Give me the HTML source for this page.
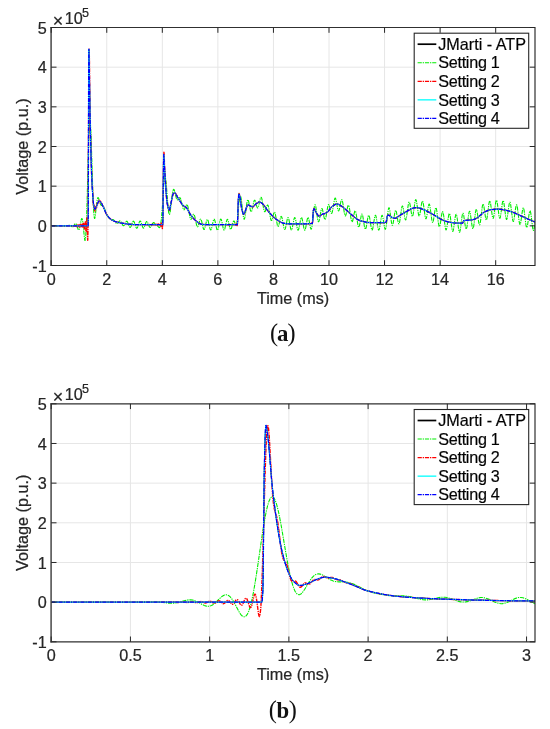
<!DOCTYPE html>
<html lang="en">
<head>
<meta charset="utf-8">
<title>Voltage comparison</title>
<style>
html,body{margin:0;padding:0;background:#fff;}
body{width:550px;height:729px;overflow:hidden;}
</style>
</head>
<body>
<svg width="550" height="729" viewBox="0 0 550 729" style="display:block">
<rect width="550" height="729" fill="#fff"/>
<g font-family="'Liberation Sans', sans-serif" fill="#262626" stroke="#262626" stroke-width="0.22">
<line x1="106.76" y1="27.5" x2="106.76" y2="265.5" stroke="#e6e6e6" stroke-width="1"/>
<line x1="162.32" y1="27.5" x2="162.32" y2="265.5" stroke="#e6e6e6" stroke-width="1"/>
<line x1="217.88" y1="27.5" x2="217.88" y2="265.5" stroke="#e6e6e6" stroke-width="1"/>
<line x1="273.44" y1="27.5" x2="273.44" y2="265.5" stroke="#e6e6e6" stroke-width="1"/>
<line x1="329.00" y1="27.5" x2="329.00" y2="265.5" stroke="#e6e6e6" stroke-width="1"/>
<line x1="384.56" y1="27.5" x2="384.56" y2="265.5" stroke="#e6e6e6" stroke-width="1"/>
<line x1="440.12" y1="27.5" x2="440.12" y2="265.5" stroke="#e6e6e6" stroke-width="1"/>
<line x1="495.68" y1="27.5" x2="495.68" y2="265.5" stroke="#e6e6e6" stroke-width="1"/>
<line x1="51.2" y1="225.83" x2="535.0" y2="225.83" stroke="#e6e6e6" stroke-width="1"/>
<line x1="51.2" y1="186.17" x2="535.0" y2="186.17" stroke="#e6e6e6" stroke-width="1"/>
<line x1="51.2" y1="146.50" x2="535.0" y2="146.50" stroke="#e6e6e6" stroke-width="1"/>
<line x1="51.2" y1="106.83" x2="535.0" y2="106.83" stroke="#e6e6e6" stroke-width="1"/>
<line x1="51.2" y1="67.17" x2="535.0" y2="67.17" stroke="#e6e6e6" stroke-width="1"/>
<clipPath id="clipa"><rect x="51.2" y="27.5" width="483.8" height="238.0"/></clipPath>
<g clip-path="url(#clipa)" fill="none" stroke-linejoin="round">
<path d="M51.20,225.83 L88.15,225.83 L88.31,213.93 L88.37,196.67 L88.59,84.53 L88.76,53.91 L88.87,49.06 L89.26,63.77 L90.04,114.77 L91.15,160.21 L91.65,174.55 L92.31,188.77 L92.93,197.87 L93.59,204.53 L94.37,208.35 L94.65,209.05 L94.81,209.17 L94.98,209.13 L95.48,208.55 L96.31,206.97 L97.65,203.31 L98.59,201.43 L98.87,201.04 L99.15,200.85 L99.43,200.89 L99.76,201.09 L100.93,202.37 L101.76,203.75 L103.93,208.31 L106.04,213.42 L106.59,214.47 L107.32,215.50 L109.09,217.69 L110.82,219.31 L112.20,220.22 L114.65,221.31 L117.48,222.24 L120.59,222.95 L127.21,223.98 L132.21,224.51 L135.71,224.64 L162.71,224.64 L162.88,219.14 L163.49,163.80 L163.71,154.43 L163.93,156.41 L165.49,183.78 L166.60,198.10 L167.26,203.73 L168.15,207.67 L168.82,209.55 L169.10,209.91 L169.38,209.92 L169.82,208.85 L172.38,196.43 L173.04,193.92 L173.27,193.47 L173.54,193.25 L174.43,192.95 L175.04,192.96 L175.38,193.23 L175.77,193.76 L177.43,197.01 L181.77,203.89 L182.65,205.01 L183.49,205.83 L184.10,206.25 L185.71,207.03 L186.54,207.81 L187.43,209.16 L189.88,213.60 L191.93,216.52 L193.32,218.31 L194.71,219.78 L198.05,222.61 L199.77,223.69 L201.27,224.21 L203.99,224.52 L206.43,224.64 L237.33,224.64 L237.44,224.01 L237.60,221.07 L238.33,199.82 L238.72,195.11 L238.99,193.70 L239.22,193.98 L239.44,194.72 L240.22,198.65 L241.33,206.73 L241.72,208.95 L242.83,212.93 L243.22,213.85 L243.55,214.27 L243.77,214.32 L243.94,214.22 L244.38,213.49 L246.99,206.14 L247.38,205.28 L247.72,204.87 L248.05,204.82 L248.55,204.97 L250.10,205.87 L251.77,206.62 L252.33,206.77 L252.83,206.77 L253.66,206.29 L255.61,204.28 L257.77,202.62 L258.83,202.09 L259.72,202.09 L260.38,202.33 L261.16,202.79 L262.55,203.79 L263.27,204.47 L264.49,205.98 L267.11,209.83 L268.27,211.36 L272.38,215.91 L275.16,218.50 L276.27,219.34 L278.88,221.04 L281.61,222.56 L283.72,223.31 L286.33,223.65 L289.77,223.85 L303.55,223.84 L308.33,223.73 L312.33,223.45 L312.44,223.10 L312.61,221.51 L313.33,210.65 L313.61,209.43 L313.94,208.79 L314.28,208.89 L314.67,209.36 L316.28,212.79 L317.89,215.21 L318.72,216.11 L319.11,216.29 L319.44,216.30 L320.11,215.96 L321.39,214.77 L321.94,214.38 L325.00,213.47 L326.06,212.97 L327.11,212.31 L327.83,211.76 L328.39,211.17 L330.67,207.98 L331.67,206.88 L333.61,205.44 L334.89,204.64 L336.00,204.18 L337.06,204.02 L338.11,204.19 L339.33,204.73 L343.50,207.62 L345.06,208.92 L348.45,212.04 L354.39,217.15 L356.22,218.60 L357.84,219.67 L359.67,220.53 L362.61,221.36 L366.00,222.13 L369.00,222.56 L371.06,222.66 L384.28,222.66 L385.06,222.53 L385.73,222.22 L386.28,221.79 L386.50,220.87 L387.23,216.19 L387.56,215.65 L388.12,215.21 L388.56,215.13 L389.12,215.32 L391.23,216.96 L393.17,217.85 L394.56,218.25 L395.17,218.30 L395.67,218.22 L396.28,217.98 L397.01,217.54 L400.06,215.16 L406.78,211.40 L410.73,209.03 L411.95,208.50 L413.84,207.98 L415.28,207.68 L416.51,207.59 L418.01,207.73 L419.73,208.18 L424.06,209.80 L426.06,210.68 L433.68,214.75 L440.45,218.94 L443.56,220.52 L445.06,221.06 L448.12,221.86 L450.62,222.38 L453.01,222.75 L459.07,223.24 L461.01,223.23 L462.62,223.06 L462.84,222.80 L463.46,221.09 L463.73,220.68 L465.51,220.36 L470.40,220.10 L471.84,219.92 L474.01,219.33 L476.62,218.24 L477.79,217.45 L480.07,215.40 L483.57,212.55 L484.73,211.87 L487.62,210.58 L489.46,209.96 L491.12,209.62 L494.90,209.29 L498.18,209.17 L500.68,209.29 L503.46,209.71 L507.51,210.64 L511.46,211.73 L514.46,212.93 L528.35,219.20 L533.29,221.31 L535.96,222.26" stroke="#000" stroke-width="1.0"/>
<path d="M51.20,225.83 L56.53,225.90 L59.70,225.72 L63.03,225.96 L66.87,225.84 L69.31,225.40 L70.15,225.63 L71.76,226.79 L72.15,226.96 L72.48,226.99 L72.87,226.84 L73.26,226.49 L74.87,223.98 L75.26,223.61 L75.59,223.52 L75.98,223.77 L76.37,224.39 L78.04,229.18 L78.42,229.85 L78.76,229.99 L79.15,229.54 L79.54,228.42 L81.20,219.89 L81.59,218.71 L81.76,218.49 L81.92,218.48 L82.15,218.79 L82.37,219.51 L82.87,222.57 L84.54,238.77 L84.87,240.32 L85.04,240.53 L85.20,240.30 L85.54,238.38 L85.81,235.15 L86.37,224.07 L86.98,205.40 L88.81,137.70 L89.43,124.36 L89.70,121.38 L89.81,120.78 L89.98,120.51 L90.20,121.32 L90.48,124.16 L91.04,135.19 L92.70,188.22 L93.31,204.34 L93.87,213.88 L94.15,216.63 L94.43,218.09 L94.59,218.40 L94.70,218.38 L94.81,218.19 L95.26,216.09 L96.59,204.02 L97.15,200.03 L97.59,198.17 L97.81,197.71 L98.09,197.55 L98.37,197.80 L98.70,198.52 L100.04,203.12 L100.65,204.65 L100.98,205.15 L101.32,205.43 L101.65,205.55 L102.76,205.67 L103.15,205.93 L103.54,206.40 L104.32,208.02 L106.04,212.98 L106.93,215.08 L108.15,217.07 L109.76,218.82 L110.37,219.31 L110.98,219.58 L111.54,219.64 L112.87,219.53 L113.59,219.80 L114.37,220.60 L115.98,223.04 L116.37,223.42 L116.76,223.61 L117.21,223.56 L117.65,223.24 L118.98,221.52 L119.43,221.07 L119.82,220.88 L120.21,220.94 L120.59,221.25 L121.04,221.89 L122.65,225.08 L123.04,225.55 L123.43,225.74 L123.87,225.58 L124.32,225.05 L125.65,222.34 L126.09,221.62 L126.48,221.27 L126.87,221.25 L127.26,221.60 L127.71,222.38 L129.37,226.63 L129.71,227.14 L130.04,227.39 L130.43,227.29 L130.87,226.71 L132.65,222.03 L133.10,221.32 L133.48,221.14 L133.87,221.40 L134.32,222.22 L135.65,226.38 L136.10,227.50 L136.54,228.14 L136.76,228.24 L136.98,228.19 L137.37,227.72 L137.76,226.86 L139.37,221.95 L139.76,221.28 L140.15,221.06 L140.48,221.25 L140.87,221.89 L142.54,226.86 L142.99,227.76 L143.37,228.10 L143.76,227.98 L144.15,227.43 L145.93,222.47 L146.37,221.70 L146.76,221.44 L147.15,221.61 L147.54,222.17 L149.15,226.24 L149.60,227.02 L149.99,227.35 L150.37,227.33 L150.76,226.98 L152.65,223.38 L153.15,222.82 L153.65,222.64 L154.04,222.75 L154.49,223.07 L155.82,224.47 L157.43,225.89 L158.93,227.44 L159.43,227.62 L159.82,227.34 L160.26,226.34 L160.65,224.68 L161.43,218.78 L162.49,205.52 L163.15,195.55 L163.21,192.56 L163.82,184.03 L164.43,178.39 L164.71,177.05 L164.99,176.55 L165.21,176.76 L165.43,177.49 L165.93,180.89 L166.49,186.92 L168.10,207.59 L168.65,212.20 L168.93,213.60 L169.21,214.33 L169.43,214.44 L169.71,214.01 L170.27,211.47 L172.04,196.36 L172.65,192.20 L173.21,189.97 L173.49,189.47 L173.77,189.37 L174.10,189.73 L174.49,190.71 L176.15,197.49 L176.60,198.84 L176.99,199.59 L177.38,199.92 L177.82,199.82 L178.21,199.41 L179.15,198.05 L179.60,197.68 L179.82,197.65 L180.04,197.74 L180.49,198.34 L181.27,200.69 L182.88,207.69 L183.27,208.88 L183.66,209.61 L183.88,209.80 L184.10,209.82 L184.32,209.68 L184.60,209.29 L185.99,205.64 L186.49,204.69 L186.71,204.49 L186.93,204.47 L187.32,204.89 L187.71,205.90 L188.16,207.70 L189.88,216.87 L190.27,218.27 L190.66,219.10 L190.99,219.33 L191.38,219.07 L191.82,218.21 L193.16,214.72 L193.60,214.25 L193.82,214.28 L193.99,214.42 L194.38,215.17 L194.82,216.69 L196.60,225.17 L197.05,226.40 L197.27,226.72 L197.49,226.84 L197.88,226.55 L198.27,225.70 L199.55,221.10 L199.99,219.82 L200.38,219.21 L200.60,219.12 L200.77,219.19 L201.16,219.78 L201.55,220.93 L203.27,228.30 L203.66,229.24 L203.99,229.56 L204.16,229.53 L204.38,229.31 L204.77,228.44 L206.55,220.97 L206.99,219.81 L207.21,219.53 L207.38,219.47 L207.55,219.52 L207.77,219.79 L208.16,220.76 L209.88,228.32 L210.32,229.56 L210.71,229.97 L210.88,229.93 L211.10,229.68 L211.49,228.73 L213.21,220.98 L213.66,219.66 L214.05,219.19 L214.21,219.21 L214.44,219.44 L214.82,220.38 L215.27,222.14 L216.55,228.33 L216.99,229.71 L217.38,230.21 L217.55,230.21 L217.77,229.98 L218.16,229.04 L218.60,227.26 L219.88,220.97 L220.32,219.57 L220.71,219.07 L220.88,219.08 L221.10,219.30 L221.49,220.25 L221.94,222.03 L223.21,228.29 L223.66,229.67 L224.05,230.15 L224.21,230.13 L224.44,229.89 L224.82,228.94 L226.55,221.06 L226.94,219.89 L227.33,219.37 L227.49,219.36 L227.71,219.56 L228.10,220.44 L229.77,227.67 L230.16,228.85 L230.55,229.42 L230.71,229.46 L230.94,229.32 L231.33,228.59 L232.94,222.50 L233.33,221.48 L233.66,221.04 L233.94,221.00 L234.27,221.32 L235.66,224.74 L235.99,225.17 L236.27,225.14 L236.60,224.53 L236.88,223.48 L237.44,219.85 L237.88,215.66 L237.94,212.56 L239.27,200.12 L239.83,196.98 L240.10,196.21 L240.33,196.01 L240.49,196.11 L240.72,196.58 L241.16,198.60 L241.66,202.26 L243.16,215.50 L243.66,218.22 L243.88,218.88 L244.10,219.18 L244.27,219.16 L244.49,218.81 L244.94,217.12 L245.44,213.91 L246.83,203.24 L247.27,200.99 L247.72,199.88 L247.88,199.78 L248.10,199.91 L248.55,200.99 L250.33,209.96 L250.77,211.34 L250.99,211.69 L251.22,211.79 L251.38,211.69 L251.60,211.36 L251.99,210.24 L253.61,202.47 L253.99,201.10 L254.33,200.40 L254.49,200.22 L254.72,200.18 L254.94,200.36 L255.16,200.73 L255.66,202.16 L256.94,206.87 L257.38,207.78 L257.61,207.95 L257.77,207.94 L258.16,207.45 L258.61,206.15 L260.33,198.45 L260.72,197.49 L260.94,197.24 L261.11,197.22 L261.49,197.70 L261.94,199.12 L263.72,209.02 L264.16,210.77 L264.55,211.62 L264.72,211.76 L264.94,211.76 L265.38,211.12 L266.77,206.43 L267.22,205.33 L267.44,205.05 L267.66,204.98 L267.88,205.15 L268.11,205.55 L268.44,206.58 L268.83,208.37 L270.44,217.98 L270.88,219.69 L271.27,220.44 L271.44,220.53 L271.61,220.48 L272.00,219.87 L272.44,218.46 L273.77,213.11 L274.22,212.22 L274.44,212.10 L274.61,212.17 L275.00,212.88 L275.44,214.53 L277.27,224.70 L277.72,226.04 L277.94,226.34 L278.16,226.39 L278.55,225.88 L278.94,224.70 L280.55,217.54 L281.00,216.55 L281.22,216.41 L281.39,216.46 L281.77,217.14 L282.22,218.77 L283.94,227.95 L284.39,229.23 L284.61,229.49 L284.77,229.52 L285.16,229.02 L285.61,227.56 L287.33,218.97 L287.72,217.94 L287.94,217.69 L288.11,217.67 L288.50,218.20 L288.94,219.69 L290.66,228.58 L291.05,229.69 L291.39,230.04 L291.55,229.99 L291.77,229.69 L292.16,228.57 L293.89,219.61 L294.33,218.11 L294.55,217.72 L294.78,217.60 L294.94,217.68 L295.16,218.02 L295.55,219.22 L297.22,228.07 L297.61,229.47 L298.00,230.13 L298.16,230.17 L298.39,229.97 L298.83,228.80 L299.28,226.77 L300.61,219.40 L301.05,217.93 L301.28,217.57 L301.44,217.47 L301.61,217.54 L301.83,217.87 L302.22,219.06 L303.83,227.84 L304.22,229.37 L304.55,230.10 L304.78,230.24 L305.00,230.10 L305.44,229.00 L305.89,226.98 L307.22,219.42 L307.66,217.89 L307.89,217.52 L308.05,217.43 L308.22,217.50 L308.44,217.84 L308.89,219.32 L310.11,226.13 L310.55,228.14 L310.94,229.07 L311.11,229.17 L311.28,229.07 L311.50,228.62 L311.72,227.81 L312.17,225.15 L313.39,213.62 L314.05,208.28 L314.55,205.68 L314.78,205.05 L315.00,204.78 L315.17,204.82 L315.39,205.17 L315.83,206.84 L317.55,218.69 L317.94,220.59 L318.33,221.62 L318.55,221.79 L318.78,221.64 L319.22,220.47 L319.67,218.36 L321.00,210.64 L321.44,209.10 L321.67,208.71 L321.83,208.60 L322.00,208.64 L322.22,208.93 L322.67,210.25 L323.94,216.73 L324.39,218.56 L324.78,219.47 L325.00,219.64 L325.17,219.59 L325.50,219.01 L325.89,217.61 L327.61,207.33 L328.06,205.51 L328.44,204.71 L328.61,204.61 L328.83,204.70 L329.28,205.60 L330.67,211.44 L331.11,212.84 L331.33,213.23 L331.56,213.39 L331.78,213.28 L332.00,212.90 L332.33,211.86 L332.72,210.01 L334.33,200.13 L334.78,198.55 L335.00,198.15 L335.17,198.04 L335.33,198.10 L335.56,198.41 L335.94,199.59 L337.67,208.86 L338.11,210.37 L338.33,210.76 L338.50,210.88 L338.67,210.84 L338.89,210.57 L339.33,209.28 L340.67,202.50 L341.11,200.69 L341.56,199.76 L341.78,199.70 L342.00,199.93 L342.39,201.00 L342.78,202.84 L344.45,213.53 L344.89,215.24 L345.28,215.84 L345.45,215.83 L345.67,215.57 L346.11,214.29 L347.39,207.89 L347.83,206.12 L348.28,205.24 L348.50,205.21 L348.67,205.38 L349.06,206.41 L349.45,208.24 L351.17,219.61 L351.56,221.18 L351.95,221.91 L352.11,221.95 L352.34,221.74 L352.78,220.53 L354.11,213.66 L354.56,211.81 L354.95,210.93 L355.17,210.81 L355.34,210.92 L355.72,211.80 L356.17,213.82 L357.89,225.07 L358.28,226.56 L358.61,227.12 L358.78,227.15 L359.00,226.91 L359.39,225.81 L359.84,223.68 L361.17,215.92 L361.61,214.44 L361.84,214.12 L362.00,214.07 L362.22,214.28 L362.45,214.78 L362.89,216.61 L364.23,225.24 L364.67,227.58 L365.11,228.95 L365.34,229.20 L365.56,229.13 L365.95,228.28 L366.34,226.62 L367.56,219.02 L368.00,216.77 L368.45,215.47 L368.67,215.26 L368.84,215.30 L369.23,216.08 L369.61,217.71 L371.28,228.04 L371.67,229.47 L371.89,229.89 L372.06,230.01 L372.23,229.94 L372.45,229.58 L372.84,228.24 L374.56,217.60 L375.00,215.85 L375.23,215.40 L375.45,215.27 L375.61,215.37 L375.84,215.79 L376.23,217.22 L377.84,227.37 L378.23,229.11 L378.56,229.92 L378.78,230.08 L379.00,229.91 L379.45,228.65 L379.89,226.36 L381.28,217.44 L381.73,215.78 L381.95,215.39 L382.12,215.31 L382.28,215.41 L382.50,215.82 L382.95,217.52 L384.23,225.63 L384.67,227.92 L385.06,229.06 L385.28,229.25 L385.45,229.16 L385.67,228.72 L385.89,227.92 L386.34,225.36 L388.12,210.54 L388.56,208.43 L388.78,207.91 L388.95,207.77 L389.12,207.85 L389.34,208.28 L389.73,209.87 L391.45,222.33 L391.89,224.44 L392.12,225.03 L392.34,225.28 L392.51,225.23 L392.73,224.88 L393.12,223.49 L394.78,212.86 L395.23,211.02 L395.45,210.53 L395.62,210.37 L395.78,210.39 L396.01,210.70 L396.45,212.20 L397.84,220.65 L398.28,222.77 L398.73,223.82 L398.95,223.87 L399.17,223.58 L399.51,222.54 L399.89,220.49 L401.56,208.42 L401.95,206.72 L402.34,205.98 L402.56,206.03 L402.78,206.41 L403.23,208.06 L404.56,216.46 L405.01,218.68 L405.45,219.82 L405.67,219.91 L405.84,219.75 L406.23,218.66 L406.62,216.65 L408.28,204.58 L408.67,202.86 L409.06,202.10 L409.23,202.09 L409.40,202.28 L409.78,203.40 L410.23,205.67 L411.56,214.18 L412.01,215.84 L412.23,216.22 L412.45,216.28 L412.84,215.57 L413.28,213.60 L415.01,201.77 L415.40,200.22 L415.62,199.76 L415.78,199.65 L415.95,199.73 L416.17,200.14 L416.56,201.62 L418.28,213.34 L418.73,215.31 L418.95,215.85 L419.17,216.04 L419.34,215.97 L419.56,215.57 L420.01,213.85 L421.34,205.02 L421.84,202.37 L422.29,201.18 L422.51,201.09 L422.73,201.34 L423.06,202.36 L423.45,204.40 L425.12,216.47 L425.51,218.11 L425.73,218.60 L425.90,218.75 L426.06,218.70 L426.29,218.33 L426.73,216.66 L428.06,207.88 L428.51,205.50 L428.95,204.21 L429.17,204.07 L429.34,204.19 L429.73,205.24 L430.12,207.24 L431.84,220.07 L432.23,221.77 L432.45,222.29 L432.62,222.45 L432.79,222.41 L433.01,222.05 L433.45,220.38 L434.79,211.54 L435.23,209.15 L435.62,207.95 L435.84,207.73 L436.01,207.80 L436.40,208.73 L436.84,211.02 L438.56,224.19 L438.95,225.95 L439.18,226.49 L439.34,226.67 L439.51,226.64 L439.73,226.29 L440.18,224.61 L441.51,215.62 L441.95,213.16 L442.34,211.90 L442.56,211.64 L442.73,211.68 L443.12,212.55 L443.56,214.78 L445.29,227.62 L445.68,229.28 L446.01,229.86 L446.23,229.79 L446.45,229.36 L446.90,227.50 L448.23,217.93 L448.73,215.03 L449.12,213.77 L449.34,213.53 L449.51,213.59 L449.90,214.54 L450.29,216.48 L452.01,229.21 L452.40,230.84 L452.62,231.30 L452.79,231.40 L452.95,231.29 L453.12,230.98 L453.51,229.48 L455.23,217.11 L455.68,215.01 L455.90,214.46 L456.07,214.28 L456.23,214.32 L456.45,214.69 L456.84,216.20 L457.29,219.02 L458.62,229.34 L459.07,231.46 L459.29,232.01 L459.45,232.18 L459.62,232.13 L459.84,231.73 L460.23,230.16 L460.68,227.25 L462.01,216.53 L462.46,214.24 L462.68,213.59 L462.90,213.30 L463.07,213.34 L463.29,213.70 L463.68,215.16 L465.34,226.49 L465.73,228.24 L465.96,228.80 L466.12,228.99 L466.29,228.97 L466.51,228.62 L466.96,226.89 L468.68,214.23 L469.12,212.10 L469.34,211.53 L469.51,211.35 L469.68,211.37 L469.90,211.74 L470.34,213.51 L471.96,225.34 L472.34,227.39 L472.73,228.45 L472.96,228.54 L473.18,228.25 L473.62,226.56 L474.07,223.66 L475.46,212.47 L475.90,210.27 L476.12,209.68 L476.29,209.48 L476.46,209.49 L476.68,209.84 L477.12,211.54 L478.46,220.82 L478.90,223.35 L479.29,224.62 L479.51,224.85 L479.68,224.77 L480.07,223.75 L480.51,221.27 L482.29,206.53 L482.68,204.70 L482.90,204.15 L483.07,203.99 L483.23,204.05 L483.46,204.47 L483.90,206.34 L485.62,218.30 L486.01,219.73 L486.23,220.06 L486.40,220.06 L486.79,219.22 L487.23,216.96 L488.96,203.41 L489.35,201.61 L489.57,201.07 L489.74,200.92 L489.90,200.99 L490.12,201.41 L490.51,203.02 L492.24,215.72 L492.68,217.77 L492.90,218.28 L493.07,218.41 L493.24,218.33 L493.46,217.88 L493.85,216.24 L495.57,203.19 L496.01,201.00 L496.24,200.42 L496.46,200.21 L496.62,200.31 L496.85,200.78 L497.24,202.45 L498.96,215.42 L499.40,217.53 L499.62,218.07 L499.79,218.23 L499.96,218.17 L500.18,217.75 L500.57,216.17 L502.29,203.41 L502.74,201.31 L502.96,200.78 L503.13,200.63 L503.29,200.69 L503.51,201.12 L503.90,202.74 L505.68,216.44 L506.13,218.64 L506.35,219.22 L506.51,219.41 L506.68,219.38 L506.90,219.00 L507.29,217.47 L509.01,204.91 L509.46,202.85 L509.68,202.33 L509.85,202.20 L510.01,202.28 L510.24,202.73 L510.63,204.39 L512.40,218.33 L512.85,220.60 L513.07,221.22 L513.24,221.43 L513.40,221.43 L513.63,221.09 L514.01,219.63 L515.74,207.39 L516.13,205.59 L516.35,205.03 L516.51,204.85 L516.68,204.89 L516.90,205.29 L517.35,207.18 L519.13,221.35 L519.57,223.65 L519.96,224.50 L520.13,224.50 L520.35,224.16 L520.74,222.71 L522.46,210.42 L522.85,208.61 L523.07,208.04 L523.24,207.86 L523.40,207.90 L523.63,208.29 L524.07,210.18 L525.85,224.39 L526.29,226.69 L526.68,227.54 L526.85,227.55 L527.07,227.21 L527.52,225.46 L529.13,213.74 L529.52,211.79 L529.85,210.93 L530.07,210.83 L530.29,211.12 L530.74,212.83 L531.24,216.23 L532.57,227.32 L533.02,229.61 L533.24,230.23 L533.41,230.44 L533.63,230.38 L533.85,229.93 L534.29,227.99 L535.96,215.76" stroke="#00ee00" stroke-width="1.1" stroke-dasharray="4.2 0.9 1.3 0.9"/>
<path d="M51.20,225.83 L68.70,225.85 L69.48,225.78 L70.31,225.93 L71.09,225.69 L71.87,226.02 L72.70,225.59 L73.48,226.14 L74.26,225.46 L74.48,225.59 L74.92,226.22 L75.09,226.28 L75.31,226.07 L75.70,225.39 L75.87,225.30 L76.09,225.52 L76.48,226.34 L76.65,226.47 L76.81,226.33 L77.26,225.27 L77.42,225.09 L77.65,225.34 L78.09,226.57 L78.26,226.69 L78.48,226.29 L78.87,225.01 L79.04,224.84 L79.26,225.25 L79.65,226.75 L79.81,226.99 L79.98,226.74 L80.42,224.82 L80.59,224.49 L80.81,224.93 L81.26,227.16 L81.42,227.38 L81.65,226.66 L82.04,224.33 L82.20,224.01 L82.42,224.78 L82.81,227.55 L82.98,227.99 L83.15,227.52 L83.59,223.86 L83.76,223.24 L83.98,224.12 L84.42,228.56 L84.59,228.99 L84.81,227.46 L85.20,222.48 L85.37,221.81 L85.59,223.62 L85.98,230.19 L86.15,231.22 L86.31,229.90 L86.76,219.58 L86.93,217.88 L87.15,221.21 L87.54,237.00 L87.70,240.27 L87.81,238.54 L87.93,232.69 L88.09,215.33 L88.81,77.46 L89.04,53.33 L89.20,49.28 L89.43,60.37 L89.98,115.52 L90.26,130.82 L90.87,144.24 L91.70,179.31 L91.93,183.17 L92.31,185.90 L92.48,187.93 L93.09,201.43 L93.37,204.89 L93.54,205.29 L93.87,204.59 L94.04,204.76 L94.65,210.06 L94.81,210.91 L94.93,210.95 L95.65,206.73 L95.70,206.65 L95.81,206.69 L96.20,207.95 L96.31,208.15 L96.43,208.11 L96.65,207.20 L97.20,203.46 L97.43,203.08 L97.81,203.62 L97.93,203.66 L98.04,203.53 L98.81,200.29 L98.93,200.22 L99.04,200.33 L99.48,201.50 L99.65,201.71 L99.81,201.66 L100.20,201.10 L100.37,201.07 L100.59,201.45 L101.20,203.27 L101.37,203.44 L101.82,203.47 L102.04,203.79 L102.76,206.13 L103.59,207.22 L104.37,209.54 L105.15,211.08 L106.04,213.50 L107.48,215.74 L109.48,218.07 L110.98,219.42 L112.32,220.26 L114.65,221.30 L117.71,222.30 L120.93,223.00 L128.10,224.10 L133.48,224.58 L144.99,224.67 L145.76,224.60 L146.60,224.70 L147.37,224.57 L148.15,224.73 L148.99,224.54 L149.76,224.77 L150.54,224.49 L151.32,224.82 L152.15,224.44 L152.93,224.88 L153.71,224.37 L154.49,224.96 L154.71,224.86 L155.15,224.32 L155.32,224.27 L155.93,225.00 L156.10,225.08 L156.32,224.89 L156.71,224.24 L156.88,224.13 L157.04,224.25 L157.49,225.10 L157.65,225.24 L157.88,225.04 L158.26,224.11 L158.43,223.92 L158.65,224.14 L159.04,225.26 L159.26,225.53 L159.49,225.13 L159.88,223.73 L160.04,223.52 L160.21,223.80 L160.65,225.84 L160.82,226.15 L161.04,225.53 L161.43,222.90 L161.60,222.43 L161.82,223.40 L162.21,227.87 L162.38,228.57 L162.60,225.63 L162.76,219.53 L163.54,164.44 L163.76,154.70 L163.93,152.31 L164.04,152.89 L164.15,154.84 L164.88,174.85 L165.60,183.39 L166.38,196.35 L166.65,199.05 L167.21,202.29 L167.76,206.47 L168.15,208.08 L168.71,208.71 L169.32,210.23 L169.49,210.26 L169.60,210.07 L170.49,205.42 L171.21,202.50 L172.04,197.96 L173.10,193.91 L173.32,193.32 L173.54,193.03 L173.71,192.99 L174.27,193.20 L174.88,192.81 L175.10,192.82 L175.38,193.12 L176.54,195.10 L177.49,197.14 L178.27,198.18 L180.65,202.22 L181.99,204.16 L182.71,205.04 L183.60,205.89 L184.21,206.29 L185.71,207.01 L186.54,207.78 L187.49,209.21 L189.88,213.55 L191.93,216.48 L193.32,218.28 L194.77,219.81 L198.05,222.58 L199.77,223.67 L201.27,224.20 L204.10,224.53 L206.49,224.64 L224.49,224.67 L225.27,224.61 L226.10,224.68 L226.88,224.60 L227.66,224.70 L228.44,224.58 L229.27,224.71 L230.05,224.56 L230.83,224.74 L231.60,224.53 L232.44,224.78 L233.21,224.48 L233.99,224.84 L234.77,224.39 L235.55,224.99 L235.77,224.85 L236.16,224.23 L236.33,224.13 L236.55,224.38 L236.94,225.45 L237.10,225.54 L237.38,223.94 L237.60,220.53 L238.55,196.80 L238.77,194.18 L238.99,193.41 L239.22,193.90 L240.27,198.61 L241.22,205.93 L241.66,208.45 L242.77,212.78 L243.16,213.70 L243.60,214.20 L243.99,214.20 L244.38,213.64 L245.22,211.17 L246.05,209.06 L246.99,206.17 L247.38,205.36 L247.77,204.91 L248.05,204.79 L248.33,204.82 L250.72,206.16 L252.16,206.75 L252.83,206.76 L253.72,206.28 L255.61,204.32 L257.77,202.64 L258.83,202.10 L259.72,202.08 L260.38,202.31 L261.05,202.70 L262.49,203.73 L263.27,204.44 L264.49,205.95 L267.22,209.95 L268.33,211.39 L272.38,215.88 L275.22,218.53 L278.88,221.03 L281.61,222.54 L283.72,223.30 L286.27,223.64 L289.72,223.85 L302.66,223.88 L303.44,223.80 L304.22,223.88 L305.05,223.77 L305.78,223.87 L306.61,223.72 L307.44,223.85 L308.22,223.64 L309.00,223.82 L309.78,223.50 L310.50,223.82 L310.72,223.74 L311.33,223.23 L311.50,223.32 L311.89,223.92 L312.05,224.03 L312.28,223.60 L312.50,222.22 L313.39,210.96 L313.61,209.24 L313.89,208.47 L314.05,208.54 L314.55,209.42 L315.17,210.14 L316.17,212.66 L316.94,213.65 L317.72,215.02 L318.89,216.18 L319.17,216.35 L319.39,216.37 L320.67,215.52 L321.83,214.43 L323.22,213.95 L324.17,213.78 L325.44,213.30 L327.22,212.27 L328.50,211.08 L330.78,207.87 L331.67,206.91 L333.56,205.49 L334.89,204.66 L336.06,204.17 L337.06,204.02 L338.17,204.19 L339.39,204.74 L343.61,207.69 L345.11,208.94 L348.45,212.02 L354.39,217.13 L356.22,218.58 L357.84,219.65 L359.61,220.50 L362.34,221.28 L365.84,222.09 L368.84,222.54 L371.56,222.66 L380.45,222.63 L381.28,222.70 L382.06,222.62 L382.84,222.71 L383.62,222.59 L384.39,222.75 L385.23,222.36 L385.84,222.38 L386.12,222.10 L386.34,221.47 L387.28,216.34 L387.50,215.63 L387.78,215.25 L388.89,215.19 L389.17,215.25 L390.06,216.06 L391.39,217.06 L393.23,217.89 L394.78,218.30 L395.89,218.16 L396.89,217.63 L400.23,215.07 L406.84,211.38 L410.73,209.04 L411.95,208.51 L413.84,207.98 L415.28,207.69 L416.51,207.59 L418.01,207.73 L419.73,208.17 L424.12,209.81 L426.06,210.66 L433.73,214.77 L440.51,218.96 L443.56,220.51 L445.12,221.07 L448.12,221.86 L451.12,222.47 L452.95,222.75 L459.18,223.26 L460.84,223.28 L461.62,223.13 L462.40,223.19 L462.84,222.71 L463.68,220.85 L464.07,220.49 L464.79,220.50 L465.62,220.31 L471.40,220.01 L472.73,219.73 L474.07,219.32 L476.57,218.28 L477.73,217.52 L480.01,215.47 L483.62,212.53 L484.85,211.83 L487.62,210.59 L489.46,209.97 L491.12,209.62 L494.90,209.29 L498.24,209.17 L500.74,209.29 L503.51,209.71 L507.79,210.70 L511.51,211.73 L514.51,212.94 L528.40,219.22 L533.35,221.32 L535.96,222.25" stroke="#ff0000" stroke-width="1.4" stroke-dasharray="4.2 0.9 1.3 0.9"/>
<path d="M51.20,225.83 L88.15,225.83 L88.31,213.93 L88.37,196.67 L88.59,84.53 L88.76,53.91 L88.87,49.06 L89.26,63.77 L90.04,114.77 L91.15,160.21 L91.65,174.55 L92.31,188.77 L92.93,197.87 L93.59,204.53 L94.37,208.35 L94.65,209.05 L94.81,209.17 L94.98,209.13 L95.48,208.55 L96.31,206.97 L97.65,203.31 L98.59,201.43 L98.87,201.04 L99.15,200.85 L99.43,200.89 L99.76,201.09 L100.93,202.37 L101.76,203.75 L103.93,208.31 L106.04,213.42 L106.59,214.47 L107.32,215.50 L109.09,217.69 L110.82,219.31 L112.20,220.22 L114.65,221.31 L117.48,222.24 L120.59,222.95 L127.21,223.98 L132.21,224.51 L135.71,224.64 L162.71,224.64 L162.88,219.14 L163.49,163.80 L163.71,154.43 L163.93,156.41 L165.49,183.78 L166.60,198.10 L167.26,203.73 L168.15,207.67 L168.82,209.55 L169.10,209.91 L169.38,209.92 L169.82,208.85 L172.38,196.43 L173.04,193.92 L173.27,193.47 L173.54,193.25 L174.43,192.95 L175.04,192.96 L175.38,193.23 L175.77,193.76 L177.43,197.01 L181.77,203.89 L182.65,205.01 L183.49,205.83 L184.10,206.25 L185.71,207.03 L186.54,207.81 L187.43,209.16 L189.88,213.60 L191.93,216.52 L193.32,218.31 L194.71,219.78 L198.05,222.61 L199.77,223.69 L201.27,224.21 L203.99,224.52 L206.43,224.64 L237.33,224.64 L237.44,224.01 L237.60,221.07 L238.33,199.82 L238.72,195.11 L238.99,193.70 L239.22,193.98 L239.44,194.72 L240.22,198.65 L241.33,206.73 L241.72,208.95 L242.83,212.93 L243.22,213.85 L243.55,214.27 L243.77,214.32 L243.94,214.22 L244.38,213.49 L246.99,206.14 L247.38,205.28 L247.72,204.87 L248.05,204.82 L248.55,204.97 L250.10,205.87 L251.77,206.62 L252.33,206.77 L252.83,206.77 L253.66,206.29 L255.61,204.28 L257.77,202.62 L258.83,202.09 L259.72,202.09 L260.38,202.33 L261.16,202.79 L262.55,203.79 L263.27,204.47 L264.49,205.98 L267.11,209.83 L268.27,211.36 L272.38,215.91 L275.16,218.50 L276.27,219.34 L278.88,221.04 L281.61,222.56 L283.72,223.31 L286.33,223.65 L289.77,223.85 L303.55,223.84 L308.33,223.73 L312.33,223.45 L312.44,223.10 L312.61,221.51 L313.33,210.65 L313.61,209.43 L313.94,208.79 L314.28,208.89 L314.67,209.36 L316.28,212.79 L317.89,215.21 L318.72,216.11 L319.11,216.29 L319.44,216.30 L320.11,215.96 L321.39,214.77 L321.94,214.38 L325.00,213.47 L326.06,212.97 L327.11,212.31 L327.83,211.76 L328.39,211.17 L330.67,207.98 L331.67,206.88 L333.61,205.44 L334.89,204.64 L336.00,204.18 L337.06,204.02 L338.11,204.19 L339.33,204.73 L343.50,207.62 L345.06,208.92 L348.45,212.04 L354.39,217.15 L356.22,218.60 L357.84,219.67 L359.67,220.53 L362.61,221.36 L366.00,222.13 L369.00,222.56 L371.06,222.66 L384.28,222.66 L385.06,222.53 L385.73,222.22 L386.28,221.79 L386.50,220.87 L387.23,216.19 L387.56,215.65 L388.12,215.21 L388.56,215.13 L389.12,215.32 L391.23,216.96 L393.17,217.85 L394.56,218.25 L395.17,218.30 L395.67,218.22 L396.28,217.98 L397.01,217.54 L400.06,215.16 L406.78,211.40 L410.73,209.03 L411.95,208.50 L413.84,207.98 L415.28,207.68 L416.51,207.59 L418.01,207.73 L419.73,208.18 L424.06,209.80 L426.06,210.68 L433.68,214.75 L440.45,218.94 L443.56,220.52 L445.06,221.06 L448.12,221.86 L450.62,222.38 L453.01,222.75 L459.07,223.24 L461.01,223.23 L462.62,223.06 L462.84,222.80 L463.46,221.09 L463.73,220.68 L465.51,220.36 L470.40,220.10 L471.84,219.92 L474.01,219.33 L476.62,218.24 L477.79,217.45 L480.07,215.40 L483.57,212.55 L484.73,211.87 L487.62,210.58 L489.46,209.96 L491.12,209.62 L494.90,209.29 L498.18,209.17 L500.68,209.29 L503.46,209.71 L507.51,210.64 L511.46,211.73 L514.46,212.93 L528.35,219.20 L533.29,221.31 L535.96,222.26" stroke="#00ffff" stroke-width="1.0"/>
<path d="M51.20,225.83 L88.15,225.83 L88.31,213.93 L88.37,196.67 L88.59,84.53 L88.76,53.91 L88.87,49.06 L89.26,63.77 L90.04,114.77 L91.15,160.21 L91.65,174.55 L92.31,188.77 L92.93,197.87 L93.59,204.53 L94.37,208.35 L94.65,209.05 L94.81,209.17 L94.98,209.13 L95.48,208.55 L96.31,206.97 L97.65,203.31 L98.59,201.43 L98.87,201.04 L99.15,200.85 L99.43,200.89 L99.76,201.09 L100.93,202.37 L101.76,203.75 L103.93,208.31 L106.04,213.42 L106.59,214.47 L107.32,215.50 L109.09,217.69 L110.82,219.31 L112.20,220.22 L114.65,221.31 L117.48,222.24 L120.59,222.95 L127.21,223.98 L132.21,224.51 L135.71,224.64 L162.71,224.64 L162.88,219.14 L163.49,163.80 L163.71,154.43 L163.93,156.41 L165.49,183.78 L166.60,198.10 L167.26,203.73 L168.15,207.67 L168.82,209.55 L169.10,209.91 L169.38,209.92 L169.82,208.85 L172.38,196.43 L173.04,193.92 L173.27,193.47 L173.54,193.25 L174.43,192.95 L175.04,192.96 L175.38,193.23 L175.77,193.76 L177.43,197.01 L181.77,203.89 L182.65,205.01 L183.49,205.83 L184.10,206.25 L185.71,207.03 L186.54,207.81 L187.43,209.16 L189.88,213.60 L191.93,216.52 L193.32,218.31 L194.71,219.78 L198.05,222.61 L199.77,223.69 L201.27,224.21 L203.99,224.52 L206.43,224.64 L237.33,224.64 L237.44,224.01 L237.60,221.07 L238.33,199.82 L238.72,195.11 L238.99,193.70 L239.22,193.98 L239.44,194.72 L240.22,198.65 L241.33,206.73 L241.72,208.95 L242.83,212.93 L243.22,213.85 L243.55,214.27 L243.77,214.32 L243.94,214.22 L244.38,213.49 L246.99,206.14 L247.38,205.28 L247.72,204.87 L248.05,204.82 L248.55,204.97 L250.10,205.87 L251.77,206.62 L252.33,206.77 L252.83,206.77 L253.66,206.29 L255.61,204.28 L257.77,202.62 L258.83,202.09 L259.72,202.09 L260.38,202.33 L261.16,202.79 L262.55,203.79 L263.27,204.47 L264.49,205.98 L267.11,209.83 L268.27,211.36 L272.38,215.91 L275.16,218.50 L276.27,219.34 L278.88,221.04 L281.61,222.56 L283.72,223.31 L286.33,223.65 L289.77,223.85 L303.55,223.84 L308.33,223.73 L312.33,223.45 L312.44,223.10 L312.61,221.51 L313.33,210.65 L313.61,209.43 L313.94,208.79 L314.28,208.89 L314.67,209.36 L316.28,212.79 L317.89,215.21 L318.72,216.11 L319.11,216.29 L319.44,216.30 L320.11,215.96 L321.39,214.77 L321.94,214.38 L325.00,213.47 L326.06,212.97 L327.11,212.31 L327.83,211.76 L328.39,211.17 L330.67,207.98 L331.67,206.88 L333.61,205.44 L334.89,204.64 L336.00,204.18 L337.06,204.02 L338.11,204.19 L339.33,204.73 L343.50,207.62 L345.06,208.92 L348.45,212.04 L354.39,217.15 L356.22,218.60 L357.84,219.67 L359.67,220.53 L362.61,221.36 L366.00,222.13 L369.00,222.56 L371.06,222.66 L384.28,222.66 L385.06,222.53 L385.73,222.22 L386.28,221.79 L386.50,220.87 L387.23,216.19 L387.56,215.65 L388.12,215.21 L388.56,215.13 L389.12,215.32 L391.23,216.96 L393.17,217.85 L394.56,218.25 L395.17,218.30 L395.67,218.22 L396.28,217.98 L397.01,217.54 L400.06,215.16 L406.78,211.40 L410.73,209.03 L411.95,208.50 L413.84,207.98 L415.28,207.68 L416.51,207.59 L418.01,207.73 L419.73,208.18 L424.06,209.80 L426.06,210.68 L433.68,214.75 L440.45,218.94 L443.56,220.52 L445.06,221.06 L448.12,221.86 L450.62,222.38 L453.01,222.75 L459.07,223.24 L461.01,223.23 L462.62,223.06 L462.84,222.80 L463.46,221.09 L463.73,220.68 L465.51,220.36 L470.40,220.10 L471.84,219.92 L474.01,219.33 L476.62,218.24 L477.79,217.45 L480.07,215.40 L483.57,212.55 L484.73,211.87 L487.62,210.58 L489.46,209.96 L491.12,209.62 L494.90,209.29 L498.18,209.17 L500.68,209.29 L503.46,209.71 L507.51,210.64 L511.46,211.73 L514.46,212.93 L528.35,219.20 L533.29,221.31 L535.96,222.26" stroke="#0000ff" stroke-width="1.25" stroke-dasharray="4.2 0.9 1.3 0.9"/>
</g>
<polyline points="50.30,27.5 535.0,27.5 535.0,265.5 50.30,265.5" fill="none" stroke="#303030" stroke-width="1.2"/>
<line x1="51.10" y1="26.90" x2="51.10" y2="266.10" stroke="#5c5c5c" stroke-width="1.7"/>
<line x1="51.20" y1="265.5" x2="51.20" y2="260.2" stroke="#262626" stroke-width="1"/>
<line x1="51.20" y1="27.5" x2="51.20" y2="32.8" stroke="#262626" stroke-width="1"/>
<text x="51.20" y="284.70" font-size="16.2" text-anchor="middle">0</text>
<line x1="106.76" y1="265.5" x2="106.76" y2="260.2" stroke="#262626" stroke-width="1"/>
<line x1="106.76" y1="27.5" x2="106.76" y2="32.8" stroke="#262626" stroke-width="1"/>
<text x="106.76" y="284.70" font-size="16.2" text-anchor="middle">2</text>
<line x1="162.32" y1="265.5" x2="162.32" y2="260.2" stroke="#262626" stroke-width="1"/>
<line x1="162.32" y1="27.5" x2="162.32" y2="32.8" stroke="#262626" stroke-width="1"/>
<text x="162.32" y="284.70" font-size="16.2" text-anchor="middle">4</text>
<line x1="217.88" y1="265.5" x2="217.88" y2="260.2" stroke="#262626" stroke-width="1"/>
<line x1="217.88" y1="27.5" x2="217.88" y2="32.8" stroke="#262626" stroke-width="1"/>
<text x="217.88" y="284.70" font-size="16.2" text-anchor="middle">6</text>
<line x1="273.44" y1="265.5" x2="273.44" y2="260.2" stroke="#262626" stroke-width="1"/>
<line x1="273.44" y1="27.5" x2="273.44" y2="32.8" stroke="#262626" stroke-width="1"/>
<text x="273.44" y="284.70" font-size="16.2" text-anchor="middle">8</text>
<line x1="329.00" y1="265.5" x2="329.00" y2="260.2" stroke="#262626" stroke-width="1"/>
<line x1="329.00" y1="27.5" x2="329.00" y2="32.8" stroke="#262626" stroke-width="1"/>
<text x="329.00" y="284.70" font-size="16.2" text-anchor="middle">10</text>
<line x1="384.56" y1="265.5" x2="384.56" y2="260.2" stroke="#262626" stroke-width="1"/>
<line x1="384.56" y1="27.5" x2="384.56" y2="32.8" stroke="#262626" stroke-width="1"/>
<text x="384.56" y="284.70" font-size="16.2" text-anchor="middle">12</text>
<line x1="440.12" y1="265.5" x2="440.12" y2="260.2" stroke="#262626" stroke-width="1"/>
<line x1="440.12" y1="27.5" x2="440.12" y2="32.8" stroke="#262626" stroke-width="1"/>
<text x="440.12" y="284.70" font-size="16.2" text-anchor="middle">14</text>
<line x1="495.68" y1="265.5" x2="495.68" y2="260.2" stroke="#262626" stroke-width="1"/>
<line x1="495.68" y1="27.5" x2="495.68" y2="32.8" stroke="#262626" stroke-width="1"/>
<text x="495.68" y="284.70" font-size="16.2" text-anchor="middle">16</text>
<line x1="51.2" y1="265.50" x2="56.5" y2="265.50" stroke="#262626" stroke-width="1"/>
<line x1="535.0" y1="265.50" x2="529.7" y2="265.50" stroke="#262626" stroke-width="1"/>
<text x="46.70" y="271.55" font-size="16.2" text-anchor="end">-1</text>
<line x1="51.2" y1="225.83" x2="56.5" y2="225.83" stroke="#262626" stroke-width="1"/>
<line x1="535.0" y1="225.83" x2="529.7" y2="225.83" stroke="#262626" stroke-width="1"/>
<text x="46.70" y="231.88" font-size="16.2" text-anchor="end">0</text>
<line x1="51.2" y1="186.17" x2="56.5" y2="186.17" stroke="#262626" stroke-width="1"/>
<line x1="535.0" y1="186.17" x2="529.7" y2="186.17" stroke="#262626" stroke-width="1"/>
<text x="46.70" y="192.22" font-size="16.2" text-anchor="end">1</text>
<line x1="51.2" y1="146.50" x2="56.5" y2="146.50" stroke="#262626" stroke-width="1"/>
<line x1="535.0" y1="146.50" x2="529.7" y2="146.50" stroke="#262626" stroke-width="1"/>
<text x="46.70" y="152.55" font-size="16.2" text-anchor="end">2</text>
<line x1="51.2" y1="106.83" x2="56.5" y2="106.83" stroke="#262626" stroke-width="1"/>
<line x1="535.0" y1="106.83" x2="529.7" y2="106.83" stroke="#262626" stroke-width="1"/>
<text x="46.70" y="112.88" font-size="16.2" text-anchor="end">3</text>
<line x1="51.2" y1="67.17" x2="56.5" y2="67.17" stroke="#262626" stroke-width="1"/>
<line x1="535.0" y1="67.17" x2="529.7" y2="67.17" stroke="#262626" stroke-width="1"/>
<text x="46.70" y="73.22" font-size="16.2" text-anchor="end">4</text>
<line x1="51.2" y1="27.50" x2="56.5" y2="27.50" stroke="#262626" stroke-width="1"/>
<line x1="535.0" y1="27.50" x2="529.7" y2="27.50" stroke="#262626" stroke-width="1"/>
<text x="46.70" y="33.55" font-size="16.2" text-anchor="end">5</text>
<text y="26.50" font-size="17.9"><tspan x="52.70">×</tspan><tspan x="64.80" dy="-2.75" font-size="16.2">10</tspan><tspan dx="-0.9" dy="-6.7" font-size="12.6">5</tspan></text>
<text x="293.10" y="303.50" font-size="16.2" text-anchor="middle">Time (ms)</text>
<text transform="translate(27.5,146.50) rotate(-90)" font-size="16.2" text-anchor="middle">Voltage (p.u.)</text>
<rect x="414.2" y="33.20" width="114.50" height="95.10" fill="#fff" stroke="#262626" stroke-width="1.1"/>
<line x1="417.6" y1="44.20" x2="436.3" y2="44.20" stroke="#000" stroke-width="1.7"/>
<text x="438.2" y="49.90" font-size="16.2" fill="#000">JMarti - ATP</text>
<line x1="417.6" y1="62.75" x2="436.3" y2="62.75" stroke="#00ee00" stroke-width="1.05" stroke-dasharray="4.2 0.9 1.3 0.9"/>
<text x="438.2" y="68.45" font-size="16.2" fill="#000" letter-spacing="-0.28">Setting 1</text>
<line x1="417.6" y1="81.30" x2="436.3" y2="81.30" stroke="#ff0000" stroke-width="1.3" stroke-dasharray="4.2 0.9 1.3 0.9"/>
<text x="438.2" y="87.00" font-size="16.2" fill="#000" letter-spacing="-0.28">Setting 2</text>
<line x1="417.6" y1="99.85" x2="436.3" y2="99.85" stroke="#00ffff" stroke-width="1.3"/>
<text x="438.2" y="105.55" font-size="16.2" fill="#000" letter-spacing="-0.28">Setting 3</text>
<line x1="417.6" y1="118.40" x2="436.3" y2="118.40" stroke="#0000ff" stroke-width="1.3" stroke-dasharray="4.2 0.9 1.3 0.9"/>
<text x="438.2" y="124.10" font-size="16.2" fill="#000" letter-spacing="-0.28">Setting 4</text>
</g>
<text x="282.3" y="340.7" font-family="'Liberation Serif', serif" font-size="24.3" letter-spacing="-1" text-anchor="middle" fill="#111">(<tspan font-weight="bold" font-size="22.8">a</tspan>)</text>
<g font-family="'Liberation Sans', sans-serif" fill="#262626" stroke="#262626" stroke-width="0.22">
<line x1="130.43" y1="403.8" x2="130.43" y2="641.8" stroke="#e6e6e6" stroke-width="1"/>
<line x1="209.65" y1="403.8" x2="209.65" y2="641.8" stroke="#e6e6e6" stroke-width="1"/>
<line x1="288.88" y1="403.8" x2="288.88" y2="641.8" stroke="#e6e6e6" stroke-width="1"/>
<line x1="368.10" y1="403.8" x2="368.10" y2="641.8" stroke="#e6e6e6" stroke-width="1"/>
<line x1="447.32" y1="403.8" x2="447.32" y2="641.8" stroke="#e6e6e6" stroke-width="1"/>
<line x1="526.55" y1="403.8" x2="526.55" y2="641.8" stroke="#e6e6e6" stroke-width="1"/>
<line x1="51.2" y1="602.13" x2="535.0" y2="602.13" stroke="#e6e6e6" stroke-width="1"/>
<line x1="51.2" y1="562.47" x2="535.0" y2="562.47" stroke="#e6e6e6" stroke-width="1"/>
<line x1="51.2" y1="522.80" x2="535.0" y2="522.80" stroke="#e6e6e6" stroke-width="1"/>
<line x1="51.2" y1="483.13" x2="535.0" y2="483.13" stroke="#e6e6e6" stroke-width="1"/>
<line x1="51.2" y1="443.47" x2="535.0" y2="443.47" stroke="#e6e6e6" stroke-width="1"/>
<clipPath id="clipb"><rect x="51.2" y="403.8" width="483.8" height="237.99999999999994"/></clipPath>
<g clip-path="url(#clipb)" fill="none" stroke-linejoin="round">
<path d="M51.20,602.13 L261.94,602.13 L262.26,600.51 L262.89,590.23 L263.21,572.97 L264.16,476.29 L264.47,460.83 L265.11,438.13 L265.42,430.21 L265.74,425.81 L266.06,425.36 L266.38,426.35 L266.69,428.06 L267.64,434.66 L268.28,440.07 L269.23,450.39 L271.76,481.66 L273.03,493.71 L274.93,508.83 L276.83,522.54 L278.73,534.66 L280.32,543.42 L281.90,550.85 L284.12,559.67 L286.02,566.06 L287.92,571.30 L290.46,576.78 L291.41,578.52 L292.36,580.01 L292.99,580.83 L293.95,581.80 L295.85,583.50 L297.11,584.45 L298.38,585.13 L299.65,585.46 L301.23,585.39 L303.14,585.02 L308.84,583.15 L310.74,582.30 L315.81,579.74 L320.25,578.13 L321.83,577.64 L323.42,577.28 L324.68,577.15 L326.27,577.19 L329.12,577.54 L333.87,578.46 L336.73,579.17 L339.58,580.05 L351.30,584.36 L362.40,589.11 L364.93,590.07 L367.47,590.86 L374.75,592.61 L382.04,594.11 L389.02,595.29 L395.67,596.17 L405.49,597.05 L418.17,597.94 L430.85,598.62 L444.47,599.17 L473.63,600.01 L497.08,600.55 L517.36,600.85 L536.06,600.94" stroke="#000" stroke-width="1.0"/>
<path d="M51.20,602.13 L81.62,602.20 L99.69,602.02 L118.70,602.26 L140.57,602.14 L154.51,601.70 L159.26,601.93 L168.45,603.09 L170.67,603.26 L172.57,603.29 L174.79,603.14 L177.01,602.79 L179.54,602.19 L186.20,600.28 L188.42,599.91 L190.32,599.82 L192.54,600.07 L194.76,600.69 L197.29,601.80 L202.04,604.43 L204.26,605.48 L206.48,606.15 L208.38,606.29 L209.65,606.11 L210.60,605.84 L211.55,605.44 L212.82,604.72 L214.09,603.80 L215.35,602.72 L220.11,598.06 L222.33,596.19 L223.59,595.41 L224.54,595.01 L225.50,594.79 L226.45,594.78 L227.71,595.09 L228.98,595.81 L230.25,596.94 L231.83,598.87 L234.05,602.41 L239.12,611.84 L240.39,613.83 L241.34,615.07 L242.29,616.01 L243.24,616.62 L244.19,616.83 L245.14,616.60 L246.09,615.90 L247.04,614.68 L247.99,612.93 L248.63,611.45 L250.21,606.67 L251.80,600.37 L253.38,592.63 L255.28,581.70 L257.19,569.40 L262.57,532.47 L264.16,522.65 L265.74,514.00 L266.69,509.51 L267.64,505.63 L268.59,502.41 L269.23,500.66 L270.18,498.62 L270.81,497.68 L271.45,497.08 L271.76,496.90 L272.40,496.81 L273.03,497.05 L273.66,497.62 L274.30,498.52 L275.25,500.46 L275.88,502.13 L276.83,505.16 L278.42,511.49 L279.68,517.53 L281.27,526.00 L286.02,553.93 L287.92,564.52 L289.83,573.96 L291.41,580.64 L292.99,586.08 L294.58,590.18 L295.21,591.44 L296.16,592.93 L297.11,593.96 L298.07,594.54 L299.02,594.71 L299.65,594.61 L300.28,594.35 L301.23,593.69 L302.50,592.39 L303.45,591.15 L304.72,589.24 L310.11,580.32 L311.69,578.12 L313.28,576.33 L314.54,575.24 L315.81,574.47 L317.08,574.01 L318.66,573.85 L320.25,574.10 L322.15,574.82 L324.05,575.87 L329.76,579.42 L331.66,580.35 L333.24,580.95 L335.14,581.45 L337.04,581.73 L338.95,581.85 L345.28,581.97 L347.50,582.23 L349.72,582.70 L351.94,583.41 L354.16,584.32 L364.30,589.43 L367.15,590.67 L369.68,591.60 L373.17,592.66 L377.29,593.66 L381.73,594.54 L387.11,595.41 L389.97,595.73 L392.82,595.91 L402.64,595.83 L404.86,595.90 L407.08,596.10 L409.30,596.43 L411.52,596.90 L420.71,599.34 L422.92,599.72 L425.14,599.91 L427.68,599.86 L430.21,599.54 L437.82,597.82 L440.35,597.37 L442.57,597.18 L444.79,597.24 L447.01,597.55 L449.54,598.19 L456.52,600.70 L458.73,601.38 L460.95,601.85 L463.17,602.04 L465.71,601.88 L468.24,601.35 L470.46,600.65 L475.85,598.64 L478.38,597.92 L480.60,597.57 L482.82,597.55 L485.04,597.90 L487.57,598.68 L489.79,599.63 L494.54,601.93 L497.08,602.93 L499.30,603.51 L501.20,603.70 L502.47,603.66 L503.73,603.49 L506.27,602.79 L508.80,601.70 L513.87,599.13 L516.41,598.11 L518.63,597.57 L520.85,597.45 L523.06,597.78 L525.60,598.66 L527.50,599.61 L532.89,602.68 L534.47,603.43 L536.06,604.02" stroke="#00ee00" stroke-width="1.1" stroke-dasharray="4.2 0.9 1.3 0.9"/>
<path d="M51.20,602.13 L151.02,602.15 L155.46,602.08 L160.21,602.23 L164.65,601.99 L169.09,602.32 L173.84,601.89 L178.28,602.44 L179.23,602.37 L181.76,601.85 L182.71,601.76 L183.98,601.89 L186.52,602.52 L187.47,602.58 L188.73,602.37 L190.95,601.69 L191.90,601.60 L193.17,601.82 L195.39,602.64 L196.34,602.77 L197.29,602.63 L199.83,601.57 L200.78,601.39 L201.41,601.45 L202.04,601.64 L204.58,602.87 L205.53,602.99 L206.16,602.87 L206.80,602.59 L209.02,601.31 L209.97,601.14 L210.60,601.26 L211.23,601.55 L213.45,603.05 L214.40,603.29 L215.35,603.04 L217.89,601.12 L218.84,600.79 L219.47,600.89 L220.11,601.23 L222.01,603.00 L222.64,603.46 L223.28,603.68 L223.59,603.68 L224.23,603.46 L224.86,602.96 L226.45,601.19 L227.08,600.63 L227.71,600.33 L228.03,600.31 L228.66,600.53 L229.30,601.08 L231.52,603.85 L232.15,604.24 L232.47,604.29 L232.78,604.24 L233.42,603.82 L234.05,603.05 L235.95,600.16 L236.59,599.64 L236.90,599.54 L237.22,599.58 L237.54,599.74 L238.17,600.42 L240.07,603.94 L240.71,604.86 L241.34,605.29 L241.66,605.29 L241.97,605.13 L242.29,604.81 L242.92,603.76 L244.51,599.99 L245.14,598.78 L245.46,598.38 L245.78,598.15 L246.09,598.11 L246.41,598.28 L246.73,598.64 L247.36,599.92 L248.95,604.82 L249.58,606.49 L249.90,607.07 L250.21,607.42 L250.53,607.52 L250.85,607.36 L251.16,606.91 L251.48,606.20 L252.11,604.07 L254.02,595.88 L254.33,594.98 L254.65,594.40 L254.97,594.18 L255.28,594.38 L255.60,595.00 L256.23,597.51 L256.87,601.48 L258.45,613.30 L258.77,614.99 L259.09,616.13 L259.40,616.57 L259.72,616.17 L260.04,614.84 L260.67,608.99 L260.99,604.36 L261.62,591.63 L262.57,564.56 L264.79,483.57 L265.74,453.76 L266.38,439.11 L267.01,429.63 L267.33,426.94 L267.64,425.61 L267.96,425.58 L268.28,426.79 L268.59,429.13 L269.23,436.67 L271.76,482.19 L272.71,495.90 L273.35,502.49 L273.66,505.03 L274.30,508.83 L274.93,511.37 L276.52,516.17 L277.15,518.87 L277.78,522.45 L278.73,529.43 L280.64,545.63 L281.27,550.29 L281.90,554.08 L282.54,556.90 L283.17,558.80 L283.80,559.99 L285.71,562.20 L286.66,564.23 L287.61,567.39 L289.83,576.62 L290.46,578.72 L291.09,580.26 L291.73,581.19 L292.36,581.57 L292.99,581.52 L294.58,580.89 L295.21,580.92 L295.85,581.29 L296.80,582.50 L298.70,585.90 L299.65,587.02 L300.28,587.28 L300.60,587.25 L301.23,586.90 L301.87,586.23 L303.77,583.73 L304.72,583.03 L305.04,582.95 L305.67,582.99 L306.30,583.26 L307.89,584.25 L308.52,584.45 L309.16,584.41 L309.79,584.08 L310.42,583.50 L312.64,580.63 L313.28,580.00 L313.91,579.58 L314.86,579.38 L317.08,579.92 L317.71,579.96 L318.35,579.83 L319.30,579.30 L321.83,577.05 L322.78,576.59 L323.42,576.52 L324.37,576.74 L326.59,577.80 L327.54,578.01 L328.49,577.96 L330.71,577.40 L331.97,577.42 L332.92,577.75 L335.14,579.04 L336.41,579.57 L337.36,579.74 L339.90,579.77 L340.85,579.97 L342.11,580.55 L344.33,581.95 L345.28,582.43 L346.23,582.74 L348.77,583.16 L350.04,583.52 L350.99,583.95 L354.47,585.84 L358.59,587.24 L363.03,589.43 L365.25,590.18 L372.54,592.11 L380.78,593.83 L387.43,595.02 L395.35,596.12 L404.54,596.96 L417.85,597.90 L430.85,598.61 L444.16,599.15 L473.31,599.99 L496.76,600.54 L517.36,600.85 L536.06,600.94" stroke="#ff0000" stroke-width="1.4" stroke-dasharray="4.2 0.9 1.3 0.9"/>
<path d="M51.20,602.13 L261.94,602.13 L262.26,600.51 L262.89,590.23 L263.21,572.97 L264.16,476.29 L264.47,460.83 L265.11,438.13 L265.42,430.21 L265.74,425.81 L266.06,425.36 L266.38,426.35 L266.69,428.06 L267.64,434.66 L268.28,440.07 L269.23,450.39 L271.76,481.66 L273.03,493.71 L274.93,508.83 L276.83,522.54 L278.73,534.66 L280.32,543.42 L281.90,550.85 L284.12,559.67 L286.02,566.06 L287.92,571.30 L290.46,576.78 L291.41,578.52 L292.36,580.01 L292.99,580.83 L293.95,581.80 L295.85,583.50 L297.11,584.45 L298.38,585.13 L299.65,585.46 L301.23,585.39 L303.14,585.02 L308.84,583.15 L310.74,582.30 L315.81,579.74 L320.25,578.13 L321.83,577.64 L323.42,577.28 L324.68,577.15 L326.27,577.19 L329.12,577.54 L333.87,578.46 L336.73,579.17 L339.58,580.05 L351.30,584.36 L362.40,589.11 L364.93,590.07 L367.47,590.86 L374.75,592.61 L382.04,594.11 L389.02,595.29 L395.67,596.17 L405.49,597.05 L418.17,597.94 L430.85,598.62 L444.47,599.17 L473.63,600.01 L497.08,600.55 L517.36,600.85 L536.06,600.94" stroke="#00ffff" stroke-width="1.0"/>
<path d="M51.20,602.13 L261.94,602.13 L262.26,600.51 L262.89,590.23 L263.21,572.97 L264.16,476.29 L264.47,460.83 L265.11,438.13 L265.42,430.21 L265.74,425.81 L266.06,425.36 L266.38,426.35 L266.69,428.06 L267.64,434.66 L268.28,440.07 L269.23,450.39 L271.76,481.66 L273.03,493.71 L274.93,508.83 L276.83,522.54 L278.73,534.66 L280.32,543.42 L281.90,550.85 L284.12,559.67 L286.02,566.06 L287.92,571.30 L290.46,576.78 L291.41,578.52 L292.36,580.01 L292.99,580.83 L293.95,581.80 L295.85,583.50 L297.11,584.45 L298.38,585.13 L299.65,585.46 L301.23,585.39 L303.14,585.02 L308.84,583.15 L310.74,582.30 L315.81,579.74 L320.25,578.13 L321.83,577.64 L323.42,577.28 L324.68,577.15 L326.27,577.19 L329.12,577.54 L333.87,578.46 L336.73,579.17 L339.58,580.05 L351.30,584.36 L362.40,589.11 L364.93,590.07 L367.47,590.86 L374.75,592.61 L382.04,594.11 L389.02,595.29 L395.67,596.17 L405.49,597.05 L418.17,597.94 L430.85,598.62 L444.47,599.17 L473.63,600.01 L497.08,600.55 L517.36,600.85 L536.06,600.94" stroke="#0000ff" stroke-width="1.25" stroke-dasharray="4.2 0.9 1.3 0.9"/>
</g>
<polyline points="50.30,403.8 535.0,403.8 535.0,641.8 50.30,641.8" fill="none" stroke="#303030" stroke-width="1.2"/>
<line x1="51.10" y1="403.20" x2="51.10" y2="642.40" stroke="#5c5c5c" stroke-width="1.7"/>
<line x1="51.20" y1="641.8" x2="51.20" y2="636.5" stroke="#262626" stroke-width="1"/>
<line x1="51.20" y1="403.8" x2="51.20" y2="409.1" stroke="#262626" stroke-width="1"/>
<text x="51.20" y="661.00" font-size="16.2" text-anchor="middle">0</text>
<line x1="130.43" y1="641.8" x2="130.43" y2="636.5" stroke="#262626" stroke-width="1"/>
<line x1="130.43" y1="403.8" x2="130.43" y2="409.1" stroke="#262626" stroke-width="1"/>
<text x="130.43" y="661.00" font-size="16.2" text-anchor="middle">0.5</text>
<line x1="209.65" y1="641.8" x2="209.65" y2="636.5" stroke="#262626" stroke-width="1"/>
<line x1="209.65" y1="403.8" x2="209.65" y2="409.1" stroke="#262626" stroke-width="1"/>
<text x="209.65" y="661.00" font-size="16.2" text-anchor="middle">1</text>
<line x1="288.88" y1="641.8" x2="288.88" y2="636.5" stroke="#262626" stroke-width="1"/>
<line x1="288.88" y1="403.8" x2="288.88" y2="409.1" stroke="#262626" stroke-width="1"/>
<text x="288.88" y="661.00" font-size="16.2" text-anchor="middle">1.5</text>
<line x1="368.10" y1="641.8" x2="368.10" y2="636.5" stroke="#262626" stroke-width="1"/>
<line x1="368.10" y1="403.8" x2="368.10" y2="409.1" stroke="#262626" stroke-width="1"/>
<text x="368.10" y="661.00" font-size="16.2" text-anchor="middle">2</text>
<line x1="447.32" y1="641.8" x2="447.32" y2="636.5" stroke="#262626" stroke-width="1"/>
<line x1="447.32" y1="403.8" x2="447.32" y2="409.1" stroke="#262626" stroke-width="1"/>
<text x="447.32" y="661.00" font-size="16.2" text-anchor="middle">2.5</text>
<line x1="526.55" y1="641.8" x2="526.55" y2="636.5" stroke="#262626" stroke-width="1"/>
<line x1="526.55" y1="403.8" x2="526.55" y2="409.1" stroke="#262626" stroke-width="1"/>
<text x="526.55" y="661.00" font-size="16.2" text-anchor="middle">3</text>
<line x1="51.2" y1="641.80" x2="56.5" y2="641.80" stroke="#262626" stroke-width="1"/>
<line x1="535.0" y1="641.80" x2="529.7" y2="641.80" stroke="#262626" stroke-width="1"/>
<text x="46.70" y="647.85" font-size="16.2" text-anchor="end">-1</text>
<line x1="51.2" y1="602.13" x2="56.5" y2="602.13" stroke="#262626" stroke-width="1"/>
<line x1="535.0" y1="602.13" x2="529.7" y2="602.13" stroke="#262626" stroke-width="1"/>
<text x="46.70" y="608.18" font-size="16.2" text-anchor="end">0</text>
<line x1="51.2" y1="562.47" x2="56.5" y2="562.47" stroke="#262626" stroke-width="1"/>
<line x1="535.0" y1="562.47" x2="529.7" y2="562.47" stroke="#262626" stroke-width="1"/>
<text x="46.70" y="568.52" font-size="16.2" text-anchor="end">1</text>
<line x1="51.2" y1="522.80" x2="56.5" y2="522.80" stroke="#262626" stroke-width="1"/>
<line x1="535.0" y1="522.80" x2="529.7" y2="522.80" stroke="#262626" stroke-width="1"/>
<text x="46.70" y="528.85" font-size="16.2" text-anchor="end">2</text>
<line x1="51.2" y1="483.13" x2="56.5" y2="483.13" stroke="#262626" stroke-width="1"/>
<line x1="535.0" y1="483.13" x2="529.7" y2="483.13" stroke="#262626" stroke-width="1"/>
<text x="46.70" y="489.18" font-size="16.2" text-anchor="end">3</text>
<line x1="51.2" y1="443.47" x2="56.5" y2="443.47" stroke="#262626" stroke-width="1"/>
<line x1="535.0" y1="443.47" x2="529.7" y2="443.47" stroke="#262626" stroke-width="1"/>
<text x="46.70" y="449.52" font-size="16.2" text-anchor="end">4</text>
<line x1="51.2" y1="403.80" x2="56.5" y2="403.80" stroke="#262626" stroke-width="1"/>
<line x1="535.0" y1="403.80" x2="529.7" y2="403.80" stroke="#262626" stroke-width="1"/>
<text x="46.70" y="409.85" font-size="16.2" text-anchor="end">5</text>
<text y="402.80" font-size="17.9"><tspan x="52.70">×</tspan><tspan x="64.80" dy="-2.75" font-size="16.2">10</tspan><tspan dx="-0.9" dy="-6.7" font-size="12.6">5</tspan></text>
<text x="293.10" y="679.80" font-size="16.2" text-anchor="middle">Time (ms)</text>
<text transform="translate(27.5,522.80) rotate(-90)" font-size="16.2" text-anchor="middle">Voltage (p.u.)</text>
<rect x="414.2" y="409.50" width="114.50" height="95.10" fill="#fff" stroke="#262626" stroke-width="1.1"/>
<line x1="417.6" y1="420.50" x2="436.3" y2="420.50" stroke="#000" stroke-width="1.7"/>
<text x="438.2" y="426.20" font-size="16.2" fill="#000">JMarti - ATP</text>
<line x1="417.6" y1="439.05" x2="436.3" y2="439.05" stroke="#00ee00" stroke-width="1.05" stroke-dasharray="4.2 0.9 1.3 0.9"/>
<text x="438.2" y="444.75" font-size="16.2" fill="#000" letter-spacing="-0.28">Setting 1</text>
<line x1="417.6" y1="457.60" x2="436.3" y2="457.60" stroke="#ff0000" stroke-width="1.3" stroke-dasharray="4.2 0.9 1.3 0.9"/>
<text x="438.2" y="463.30" font-size="16.2" fill="#000" letter-spacing="-0.28">Setting 2</text>
<line x1="417.6" y1="476.15" x2="436.3" y2="476.15" stroke="#00ffff" stroke-width="1.3"/>
<text x="438.2" y="481.85" font-size="16.2" fill="#000" letter-spacing="-0.28">Setting 3</text>
<line x1="417.6" y1="494.70" x2="436.3" y2="494.70" stroke="#0000ff" stroke-width="1.3" stroke-dasharray="4.2 0.9 1.3 0.9"/>
<text x="438.2" y="500.40" font-size="16.2" fill="#000" letter-spacing="-0.28">Setting 4</text>
</g>
<text x="282.6" y="717.7" font-family="'Liberation Serif', serif" font-size="24.3" letter-spacing="-0.4" text-anchor="middle" fill="#111">(<tspan font-weight="bold" font-size="22.8">b</tspan>)</text>
</svg>
</body>
</html>
